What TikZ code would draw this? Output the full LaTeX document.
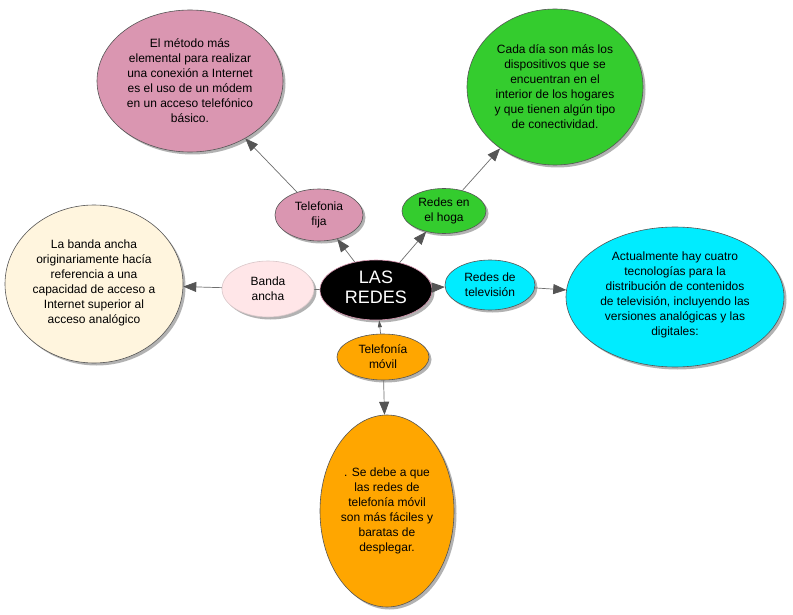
\documentclass[tikz,border=0pt]{standalone}
\usepackage{fontspec}
\setmainfont{Liberation Sans}
\usetikzlibrary{shapes.geometric,arrows.meta,shadows}
\definecolor{cpink}{RGB}{218,150,177}
\definecolor{cgreen}{RGB}{52,204,46}
\definecolor{ccyan}{RGB}{0,236,255}
\definecolor{corange}{RGB}{255,166,0}
\definecolor{ccream}{RGB}{255,245,222}
\definecolor{clpink}{RGB}{255,230,232}
\definecolor{cedge}{RGB}{85,85,85}
\definecolor{cline}{RGB}{110,110,110}
\definecolor{ctip}{RGB}{85,85,85}
\tikzset{
  bubble/.style={ellipse, draw=cedge, line width=0.6pt, inner sep=0pt, align=center,
    font=\fontsize{12pt}{15pt}\selectfont,
    drop shadow={shadow xshift=2.5pt, shadow yshift=-2.5pt, fill=black!55, opacity=0.55}},
  txt/.style={inner sep=0pt, align=center, font=\fontsize{12pt}{15pt}\selectfont},
  conn/.style={draw=cline, line width=0.7pt},
  arr/.style={conn, -{Triangle[length=13pt,width=10pt,fill=ctip,color=ctip]}},
  sarr/.style={conn, -{Triangle[length=7pt,width=4pt,fill=ctip,color=ctip]}}
}
\begin{document}
\begin{tikzpicture}[x=1pt,y=-1pt]
\useasboundingbox[fill=white] (0,0) rectangle (793,615);

\node[bubble, fill=cpink, minimum width=186pt, minimum height=142pt] (pinkbig) at (190,81)
  {El método más\\elemental para realizar\\una conexión a Internet\\es el uso de un módem\\en un acceso telefónico\\básico.};
\node[bubble, fill=cgreen, minimum width=176pt, minimum height=156pt] (greenbig) at (555,87)
  {Cada día son más los\\dispositivos que se\\encuentran en el\\interior de los hogares\\y que tienen algún tipo\\de conectividad.};
\node[bubble, fill=cpink, minimum width=88pt, minimum height=52pt] (fija) at (319,215)
  {Telefonia\\fija};
\node[bubble, fill=cgreen, minimum width=84pt, minimum height=45pt] (hoga) at (444,211)
  {Redes en\\el hoga};
\node[bubble, fill=black, draw=cpink, minimum width=112pt, minimum height=60pt] (redes) at (376,290) {};
\node[txt, text=white, font=\fontsize{18pt}{20pt}\selectfont] (redestext) at ([yshift=3pt]redes.center)
  {LAS\\REDES};
\node[bubble, fill=clpink, draw=clpink!70!gray, minimum width=92pt, minimum height=56pt] (banda) at (268,289)
  {Banda\\ancha};
\node[bubble, fill=ccyan, minimum width=90pt, minimum height=50pt] (tele) at (490,285)
  {Redes de\\televisión};
\node[bubble, fill=corange, minimum width=92pt, minimum height=46pt] (movil) at (383,357)
  {Telefonía\\móvil};
\node[bubble, fill=corange, minimum width=134pt, minimum height=192pt] (orangebig) at (387,511)
  {. Se debe a que\\las redes de\\telefonía móvil\\son más fáciles y\\baratas de\\desplegar.};
\node[bubble, fill=ccyan, minimum width=218pt, minimum height=140pt] (cyanbig) at (675,297) {};
\node[txt] (cyantext) at ([yshift=2pt]cyanbig.center)
  {Actualmente hay cuatro\\tecnologías para la\\distribución de contenidos\\de televisión, incluyendo las\\versiones analógicas y las\\digitales:};
\node[bubble, fill=ccream, minimum width=178pt, minimum height=158pt] (yellow) at (94,284) {};
\node[txt] (yellowtext) at ([yshift=1pt]yellow.center)
  {La banda ancha\\originariamente hacía\\referencia a una\\capacidad de acceso a\\Internet superior al\\acceso analógico};

\draw[arr] (redes) -- (fija);
\draw[arr] (redes) -- (hoga);
\draw[arr] (redes) -- (tele);
\draw[conn] (redes) -- (banda);
\draw[sarr] (movil) -- (redes);
\draw[arr] (fija) -- (pinkbig);
\draw[arr] (hoga) -- (greenbig);
\draw[arr] (banda) -- (yellow);
\draw[arr] (tele) -- (cyanbig);
\draw[arr] (movil) -- (orangebig);
\end{tikzpicture}
\end{document}
